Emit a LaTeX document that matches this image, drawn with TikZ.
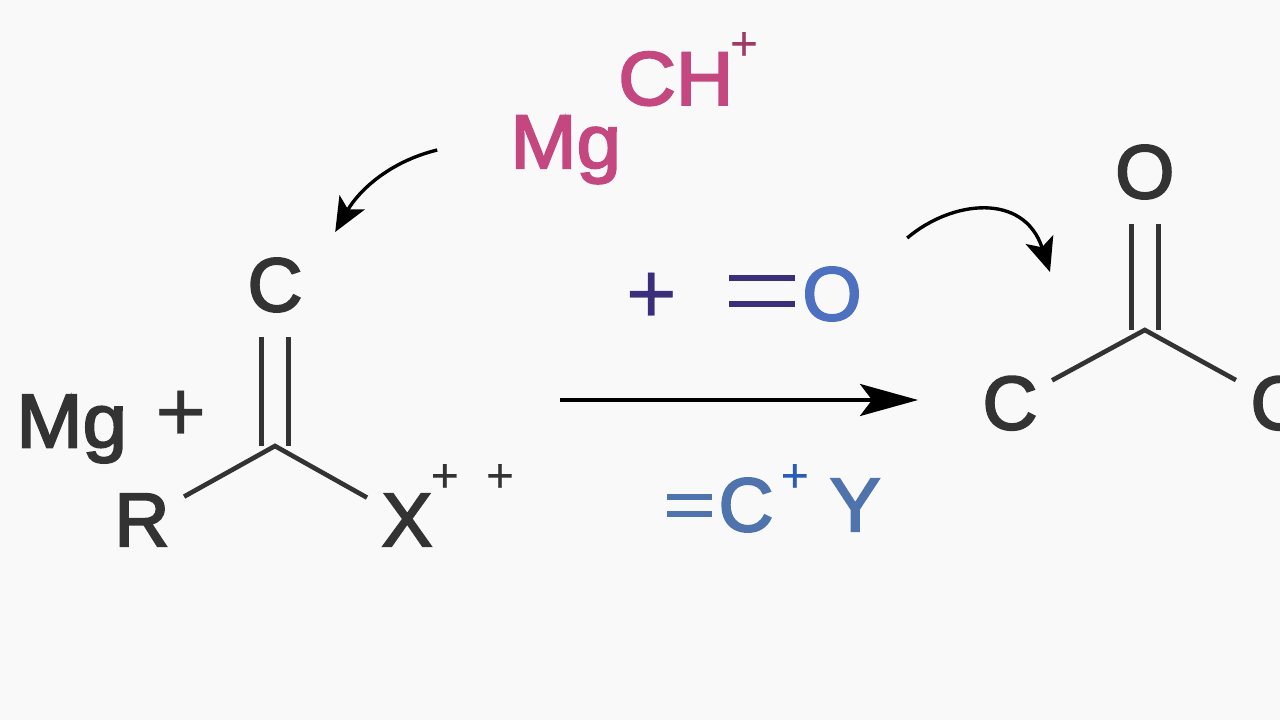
\documentclass[tikz,border=0pt]{standalone}
\usepackage{fontspec}
\usepackage{tikz}
\usetikzlibrary{arrows.meta}
\newfontface\atomfont[FakeBold=2.8]{Liberation Sans}
\newfontface\labelfont[FakeBold=2.8,FakeStretch=1.05]{Liberation Sans}
\newfontface\signfont[FakeBold=0.4]{Liberation Sans}
\definecolor{paper}{HTML}{F9F9FA}
\definecolor{ink}{HTML}{333333}
\definecolor{pinkish}{HTML}{C4487F}
\definecolor{violet}{HTML}{3B2F7C}
\definecolor{oxblue}{HTML}{4E70C0}
\definecolor{steel}{HTML}{4F74AD}
\definecolor{deepblue}{HTML}{2A5CB8}

\begin{document}
\begin{tikzpicture}[atom/.style={inner sep=0.36cm, font=\atomfont\fontsize{54}{54}\selectfont, text=ink},
  label/.style={inner sep=0pt, font=\labelfont\fontsize{54}{54}\selectfont, text=ink},
  bigsign/.style={inner sep=0pt, font=\signfont\fontsize{62}{62}\selectfont, text=ink},
  small/.style={inner sep=0pt, font=\signfont\fontsize{34}{34}\selectfont, text=ink},
  bond/.style={line width=3.3pt, draw=ink},
  dbl/.style={line width=4.2pt},
  arrow/.style={line width=2.4pt, black, -{Stealth[length=0.85cm, width=0.72cm, inset=0.2cm]}},
  mainarrow/.style={line width=2.4pt, black, -{Stealth[length=1.45cm, width=0.8cm, inset=0.3cm]}}]
\fill [paper] (0,0) rectangle (32,18);
\useasboundingbox (0,0) rectangle (32,18);
% left molecule
\node [atom] (carbon) at (6.875,10.875) {C};
\node [atom] (rest) at (3.55,5) {R};
\node [atom] (halide) at (10.175,5) {X};
\coordinate (joint) at (6.875,6.85);
\node [label, anchor=base west] (metal) at (0.4,6.82) {Mg};
\node [bigsign] (plus) at (4.52,7.6) {+};
\node [small] (charge) at (11.12,6.05) {+};
\node [small] (chargeb) at (12.5,6.05) {+};
\draw [bond, shorten <=0.26cm] ([xshift=-0.34cm]carbon.south) -- ([xshift=-0.34cm]joint);
\draw [bond, shorten <=0.26cm] ([xshift=0.34cm]carbon.south) -- ([xshift=0.34cm]joint);
\draw [bond] (rest) -- (joint) -- (halide);
% reagent at the top
\node [label, text=pinkish, anchor=base west] (grignard) at (12.75,13.8) {Mg};
\node [label, text=pinkish, anchor=base west] (methine) at (15.45,15.38) {CH};
\node [small, text=pinkish!80!black] (chargec) at (18.6,16.85) {+};
\coordinate (fromtop) at (10.93,14.25);
\coordinate (totop) at (8.38,12.2);
\draw [arrow] (fromtop) .. controls (9.7,13.95) and (8.95,13.2) .. (totop);
% middle, above the arrow
\node [bigsign, text=violet] (plusb) at (16.28,10.55) {+};
\node [inner sep=0pt, font=\atomfont\fontsize{54}{54}\selectfont, text=oxblue] (oxygen) at (20.8,10.65) {O};
\coordinate (dbla) at (18.22,11.05);
\coordinate (dblb) at (18.22,10.4);
\draw [dbl, violet] (dbla) -- ++(1.65,0);
\draw [dbl, violet] (dblb) -- ++(1.65,0);
% reaction arrow
\coordinate (start) at (14,8);
\coordinate (finish) at (22.95,8);
\draw [mainarrow] (start) -- (finish);
% middle, below the arrow
\node [inner sep=0pt, font=\atomfont\fontsize{54}{54}\selectfont, text=steel] (carbonb) at (18.65,5.375) {C};
\node [inner sep=0pt, font=\atomfont\fontsize{54}{54}\selectfont, text=steel] (yttrium) at (21.38,5.375) {Y};
\node [small, text=deepblue] (chargem) at (19.87,6.05) {+};
\coordinate (dblc) at (16.68,5.58);
\coordinate (dbld) at (16.68,5.15);
\draw [dbl, steel] (dblc) -- ++(1.12,0);
\draw [dbl, steel] (dbld) -- ++(1.12,0);
% right molecule
\node [atom] (oxygenb) at (28.62,13.7) {O};
\node [atom] (carbonl) at (25.25,7.92) {C};
\node [atom] (carbonr) at (31.95,7.92) {C};
\coordinate (jointb) at (28.62,9.75);
\draw [bond, shorten <=0.26cm] ([xshift=-0.34cm]oxygenb.south) -- ([xshift=-0.34cm]jointb);
\draw [bond, shorten <=0.26cm] ([xshift=0.34cm]oxygenb.south) -- ([xshift=0.34cm]jointb);
\draw [bond] (carbonl) -- (jointb) -- (carbonr);
\coordinate (fromright) at (22.68,12.05);
\coordinate (toright) at (26.25,11.2);
\draw [arrow] (fromright) .. controls (23.8,13.0) and (25.6,13.2) .. (toright);
\end{tikzpicture}
\end{document}
